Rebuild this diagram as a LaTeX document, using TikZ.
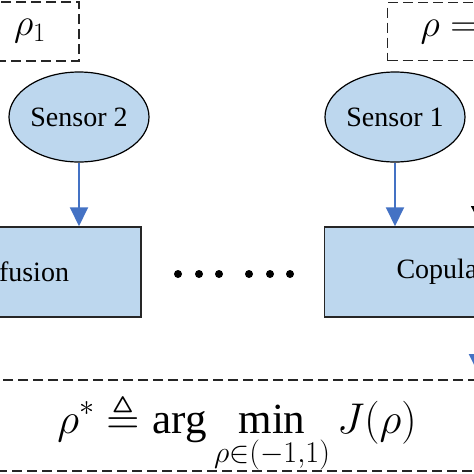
\RequirePackage{fix-cm}
\documentclass[tikz,border=0pt]{standalone}
\usepackage{amsmath,amssymb}
\usepackage{fontspec}
\setmainfont{Liberation Serif}
\usetikzlibrary{arrows.meta,shapes.geometric}

\definecolor{boxblue}{HTML}{BDD7EE}
\definecolor{arrowblue}{HTML}{4472C4}

\tikzset{
    sensor/.style={ellipse, draw=black, line width=1.2pt, fill=boxblue,
        minimum width=140, minimum height=90, inner sep=0pt,
        font=\fontsize{28}{30}\selectfont},
    fusebox/.style={rectangle, draw=black!85, line width=1.5pt, fill=boxblue,
        minimum height=90, inner sep=0pt, font=\fontsize{28}{30}\selectfont},
    dashbox/.style={rectangle, draw=black!85, line width=1.4pt,
        dash pattern=on 10pt off 5pt, inner sep=0pt},
    blue arrow/.style={draw=arrowblue, line width=2pt,
        -{Triangle[width=18pt,length=19pt]}}
}

\begin{document}
\begin{tikzpicture}[x=1pt,y=-1pt]

    \useasboundingbox (0,0) rectangle (474,474);
    \clip (0,0) rectangle (474,474);

    % correlation boxes
    \node[dashbox, minimum width=98, minimum height=59] (rhoone) at (30,31.5)
        {\fontsize{38}{40}\selectfont $\rho_{1}$};
    \node[dashbox, anchor=north west, minimum height=58, text width=90,
        align=left, inner xsep=33] (rhoeq) at (387,2)
        {\fontsize{38}{40}\selectfont $\rho =$};

    % sensors
    \node[sensor] (sensortwo) at (79,117) {Sensor 2};
    \node[sensor] (sensorone) at (395,117) {Sensor 1};

    % fusion boxes
    \node[fusebox, minimum width=214] (fusion) at (34,272) {fusion};
    \node[fusebox, minimum width=225] (copula) at (437,272) {Copula};

    \draw[blue arrow] (sensortwo.south) -- (sensortwo.south |- fusion.north);
    \draw[blue arrow] (sensorone.south) -- (sensorone.south |- copula.north);

    % dots between the two
    \foreach \x in {178,199,219,249,270,290}
        \fill (\x,274) circle (4);

    % arrows leaving the picture on the right
    \coordinate (outtop) at (477,170);
    \coordinate (outtopend) at (477,218);
    \draw[line width=1.2pt, -{Triangle[width=12pt,length=12pt]}] (outtop) -- (outtopend);
    \coordinate (outlow) at (478,330);
    \coordinate (outlowend) at (478,373);
    \draw[blue arrow] (outlow) -- (outlowend);

    % optimum
    \node[dashbox, minimum width=600, minimum height=91] (optimum) at (237,425.5) {};
    \node[anchor=base] (argmin) at (237,433)
        {\fontsize{43}{46}\selectfont
         $\displaystyle \rho^{*} \triangleq \arg\min_{\raisebox{12pt}{$\scriptstyle\rho\in(-1,1)$}} J(\rho)$};

\end{tikzpicture}
\end{document}
